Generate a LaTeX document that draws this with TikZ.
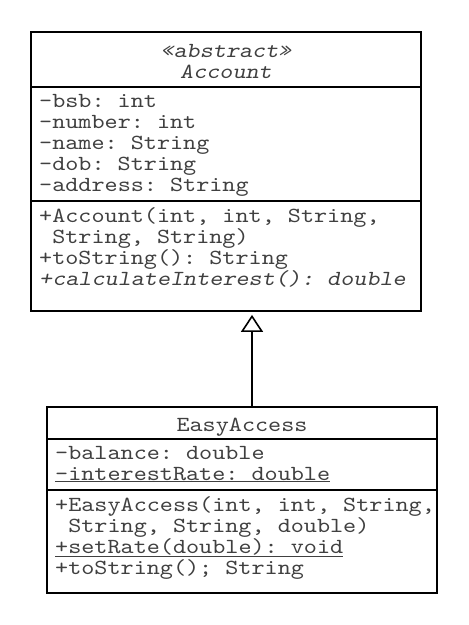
\documentclass[tikz,border=0pt]{standalone}
\usepackage{fontspec}
\setmonofont{lmmono10-regular.otf}[ItalicFont=lmmonoslant10-regular.otf, FakeStretch=1.16]
\usetikzlibrary{arrows.meta}

\tikzset{
  classbox/.style={draw, line width=1.8pt, minimum width=390pt, inner sep=0pt},
  member/.style={anchor=base west, inner sep=0pt, text=black!75,
    font=\fontsize{21.5pt}{21pt}\selectfont\ttfamily},
  classname/.style={member, anchor=base},
  divider/.style={line width=1.5pt},
  generalize/.style={line width=1.6pt, -{Triangle[open, length=17pt, width=22pt]}, shorten >=3pt}
}

\begin{document}
\begin{tikzpicture}[x=1pt, y=-1pt]
  \useasboundingbox (0,0) rectangle (469,625);

  % 1. abstract class Account
  \node[classbox, minimum height=279pt] (account) at (226,171.5) {};
  \draw[divider] (31,87) -- (421,87);
  \draw[divider] (31,201) -- (421,201);

  \node[classname] (acc-stereo) at (226,57) {\itshape «abstract»};
  \node[classname] (acc-name) at (226,78) {\itshape Account};

  \node[member] (acc-bsb) at (39,107) {-bsb: int};
  \node[member] (acc-number) at (39,128.2) {-number: int};
  \node[member] (acc-name2) at (39,149.4) {-name: String};
  \node[member] (acc-dob) at (39,170.6) {-dob: String};
  \node[member] (acc-address) at (39,191.8) {-address: String};

  \node[member] (acc-ctor) at (39,222) {+Account(int, int, String,};
  \node[member] (acc-ctor2) at (39,243.2) {\phantom{+}String, String)};
  \node[member] (acc-tostr) at (39,264.4) {+toString(): String};
  \node[member] (acc-calc) at (39,285.6) {\itshape +calculateInterest(): double};

  % 2. subclass EasyAccess
  \node[classbox, minimum height=186pt] (easy) at (242,500) {};
  \draw[divider] (47,439) -- (437,439);
  \draw[divider] (47,490) -- (437,490);

  \node[classname] (easy-name) at (242,431) {EasyAccess};

  \node[member] (easy-balance) at (55,459) {-balance: double};
  \node[member] (easy-rate) at (55,480) {\underline{-interestRate: double}};

  \node[member] (easy-ctor) at (55,511) {+EasyAccess(int, int, String,};
  \node[member] (easy-ctor2) at (55,532) {\phantom{+}String, String, double)};
  \node[member] (easy-setrate) at (55,553) {\underline{+setRate(double): void}};
  \node[member] (easy-tostr) at (55,574) {+toString(); String};

  % 3. generalisation
  \coordinate (gen) at (252,0);
  \draw[generalize] (easy.north -| gen) -- (account.south -| gen);
\end{tikzpicture}
\end{document}
